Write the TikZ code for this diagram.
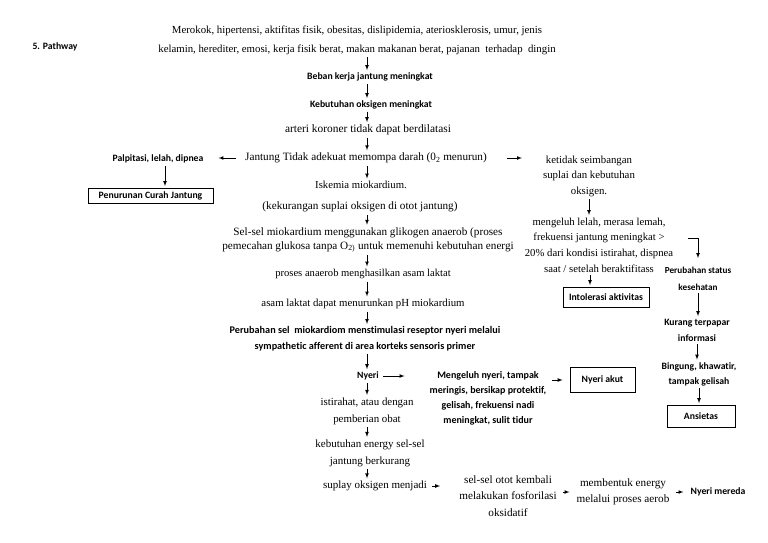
\documentclass[tikz,border=0pt]{standalone}
\usepackage{fontspec}
\setmainfont{Liberation Serif}
\newfontfamily\calibri{Carlito}[Ligatures = NoCommon]

\begin{document}

\begin{tikzpicture}[> = latex, x = 1pt, y = -1pt,
	serif/.style = {font = \fontsize{11}{16}\selectfont, align = center, inner sep = 1pt},
	bold/.style = {font = \calibri\bfseries\fontsize{9.7}{16}\selectfont, align = center, inner sep = 1pt},
	framed/.style = {bold, draw, line width = 0.8pt},
	arr/.style = {->, line width = 0.7pt, shorten > = 1.5pt, shorten < = 1.5pt}]

	\useasboundingbox (0, 0) rectangle (768, 543);
	\coordinate (spine) at (367, 0);

	% Title and causes

	\node [bold] (pathway) at (55, 47) {5. Pathway};
	\node [serif, font = \fontsize{10.8}{19}\selectfont] (risk) at (357, 40) {Merokok, hipertensi, aktifitas fisik, obesitas, dislipidemia, ateriosklerosis, umur, jenis\\ kelamin, herediter, emosi, kerja fisik berat, makan makanan berat, pajanan\ \ terhadap\ \ dingin};

	% Main chain

	\node [bold] (beban) at (370, 77) {Beban kerja jantung meningkat};
	\node [bold] (oksigen) at (371, 105) {Kebutuhan oksigen meningkat};
	\node [serif, font = \fontsize{11.4}{16}\selectfont] (arteri) at (368, 130) {arteri koroner tidak dapat berdilatasi};
	\node [serif, font = \fontsize{11.2}{16}\selectfont] (pompa) at (366, 158) {Jantung Tidak adekuat memompa darah (0\textsubscript{2} menurun)};
	\node [serif, font = \fontsize{10.7}{16}\selectfont] (iskemia) at (361, 185) {Iskemia miokardium.};
	\node [serif, font = \fontsize{11.2}{16}\selectfont] (kurang) at (360, 207) {(kekurangan suplai oksigen di otot jantung)};
	\node [serif, font = \fontsize{11.2}{14}\selectfont] (glikogen) at (368, 240) {Sel-sel miokardium menggunakan glikogen anaerob (proses\\ pemecahan glukosa tanpa O\textsubscript{2)} untuk memenuhi kebutuhan energi};
	\node [serif, font = \fontsize{10.6}{16}\selectfont] (laktat) at (363, 274) {proses anaerob menghasilkan asam laktat};
	\node [serif, font = \fontsize{10.8}{16}\selectfont] (ph) at (363, 304) {asam laktat dapat menurunkan pH miokardium};
	\node [bold, font = \calibri\bfseries\fontsize{10.2}{16}\selectfont] (reseptor) at (365, 339) {Perubahan sel\ \ miokardiom menstimulasi reseptor nyeri melalui\\ sympathetic afferent di area korteks sensoris primer};
	\node [bold] (nyeri) at (368, 376) {Nyeri};
	\node [serif, font = \fontsize{10.9}{17}\selectfont] (istirahat) at (367, 411) {istirahat, atau dengan\\ pemberian obat};
	\node [serif, font = \fontsize{11}{17}\selectfont] (energi) at (370, 453) {kebutuhan energy sel-sel\\ jantung berkurang};
	\node [serif] (suplay) at (375, 486) {suplay oksigen menjadi};

	\foreach \a/\b in {risk/beban, beban/oksigen, oksigen/arteri, arteri/pompa, pompa/iskemia,
		kurang/glikogen, glikogen/laktat, laktat/ph, ph/reseptor, reseptor/nyeri,
		nyeri/istirahat, istirahat/energi, energi/suplay}
		\draw [arr] (\a.south -| spine) -- (\b.north -| spine);

	% Left branch

	\node [bold] (palpitasi) at (158, 159) {Palpitasi, lelah, dipnea};
	\node [framed, minimum width = 125, minimum height = 15] (curah) at (150.5, 195.5) {Penurunan Curah Jantung};
	\draw [arr, shorten < = 8pt, shorten > = 14pt] (pompa.west) -- (pompa.west -| palpitasi.east);
	\draw [arr] ([xshift = 7pt]palpitasi.south) -- ([xshift = 7pt]palpitasi.south |- curah.north);

	% Right branch

	\node [serif, font = \fontsize{10.8}{15.5}\selectfont] (seimbang) at (589, 176) {ketidak seimbangan\\ suplai dan kebutuhan\\ oksigen.};
	\node [serif, font = \fontsize{10.7}{15.7}\selectfont] (lelah) at (599, 245) {mengeluh lelah, merasa lemah,\\ frekuensi jantung meningkat >\\ 20\% dari kondisi istirahat, dispnea\\ saat / setelah beraktifitass};
	\node [framed, minimum width = 86, minimum height = 20] (intoleransi) at (606, 297) {Intolerasi aktivitas};
	\draw [arr, shorten < = 19pt, shorten > = 20pt] (pompa.east) -- (pompa.east -| seimbang.west);
	\draw [arr] (seimbang.south) -- (seimbang.south |- lelah.north);
	\draw [arr] ([xshift = -9pt]lelah.south) -- ([xshift = -9pt]lelah.south |- intoleransi.north);

	\node [bold, font = \calibri\bfseries\fontsize{9.2}{17}\selectfont] (status) at (698, 279) {Perubahan status\\ kesehatan};
	\node [bold] (informasi) at (697, 330) {Kurang terpapar\\ informasi};
	\node [bold, font = \calibri\bfseries\fontsize{9.7}{15}\selectfont] (gelisah) at (699, 374) {Bingung, khawatir,\\ tampak gelisah};
	\node [framed, minimum width = 68, minimum height = 22] (ansietas) at (701, 416) {Ansietas};
	\draw [arr, shorten > = 8pt] ([xshift = 12pt, yshift = 7pt]lelah.east) -| (status.north);
	\draw [arr] (status.south) -- (status.south |- informasi.north);
	\draw [arr] (informasi.south) -- (informasi.south |- gelisah.north);
	\draw [arr] (gelisah.south) -- (gelisah.south |- ansietas.north);

	% Nyeri branch

	\node [bold, font = \calibri\bfseries\fontsize{10}{15}\selectfont] (meringis) at (488, 398) {Mengeluh nyeri, tampak\\ meringis, bersikap protektif,\\ gelisah, frekuensi nadi\\ meningkat, sulit tidur};
	\node [framed, minimum width = 65, minimum height = 25] (akut) at (602.5, 380) {Nyeri akut};
	\draw [arr, shorten < = 3pt, shorten > = 24pt] (nyeri.east) -- (nyeri.east -| meringis.west);
	\draw [arr, shorten < = 5pt, shorten > = 7pt] (meringis.east |- akut.west) -- (akut.west);

	% Recovery

	\node [serif, font = \fontsize{11.2}{16.5}\selectfont] (fosforilasi) at (508, 496) {sel-sel otot kembali\\ melakukan fosforilasi\\ oksidatif};
	\node [serif, font = \fontsize{11.2}{16.5}\selectfont] (aerob) at (623, 492) {membentuk energy\\ melalui proses aerob};
	\node [bold] (mereda) at (718, 492) {Nyeri mereda};
	\draw [arr, shorten < = 4pt, shorten > = 18pt] (suplay.east) -- (suplay.east -| fosforilasi.west);
	\draw [arr, shorten < = 5pt, shorten > = 6pt] (fosforilasi.east |- aerob.east) -- (aerob.west);
	\draw [arr, shorten < = 5pt, shorten > = 6pt] (aerob.east) -- (mereda.west);

\end{tikzpicture}

\end{document}
